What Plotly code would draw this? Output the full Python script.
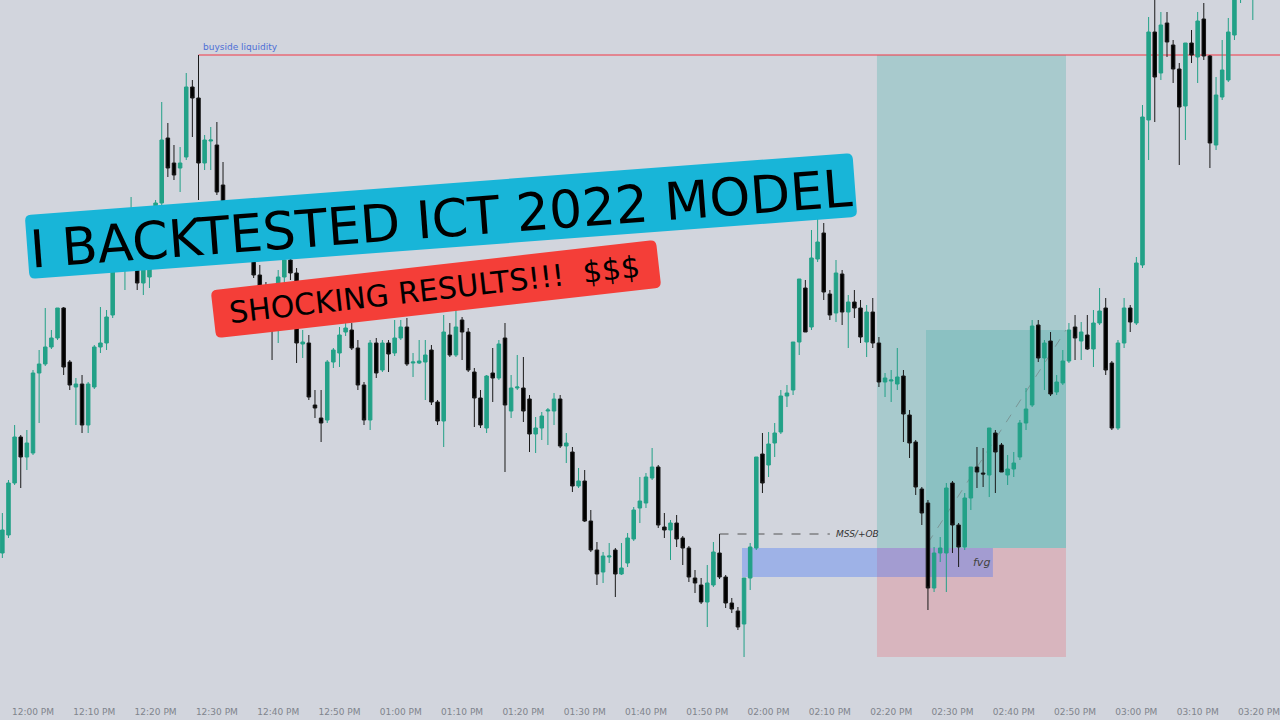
import math
import pandas as pd
import plotly.graph_objects as go

# ---------------- data (1-minute candles) ----------------
start_time = "2023-03-08 11:55"
opens = [12447,12465,12517,12563,12543,12547,12627,12636,12653,12662,
         12692,12638,12613,12616,12575,12613,12653,12657,12685,12745,
         12738,12768,12778,12717,12723,12760,12797,12862,12837,12832,
         12843,12913,12902,12837,12859,12855,12815,12775,12790,12765,
         12778,12782,12725,12713,12695,12680,12723,12740,12727,12656,
         12657,12595,12582,12580,12638,12647,12668,12670,12652,12615,
         12580,12657,12630,12657,12647,12662,12673,12637,12637,12638,
         12650,12598,12579,12665,12645,12680,12668,12628,12602,12572,
         12627,12622,12662,12589,12612,12612,12601,12566,12572,12589,
         12589,12601,12554,12548,12514,12519,12479,12450,12428,12443,
         12450,12426,12437,12461,12492,12497,12522,12533,12473,12470,
         12477,12462,12452,12422,12415,12398,12415,12447,12423,12397,
         12389,12376,12422,12452,12546,12535,12557,12568,12604,12610,
         12658,12712,12673,12741,12767,12706,12687,12726,12688,12698,
         12692,12658,12688,12657,12618,12619,12616,12624,12585,12558,
         12511,12497,12412,12447,12447,12517,12475,12453,12502,12533,
         12527,12525,12567,12555,12525,12531,12543,12577,12595,12675,
         12642,12659,12608,12617,12639,12673,12659,12665,12651,12677,
         12692,12637,12572,12657,12692,12677,12735,12880,12968,12927,
         12977,12955,12931,12894,12957,12943,12981,12944,12855,12903,
         12920,12965,13010,13020,13030,13035,13045,13040,13050]
highs = [12487,12520,12575,12565,12570,12630,12650,12692,12670,12692,
         12693,12640,12622,12625,12618,12655,12693,12690,12755,12760,
         12772,12803,12788,12738,12765,12800,12898,12877,12855,12853,
         12927,12920,12945,12865,12873,12878,12838,12795,12800,12785,
         12788,12788,12735,12718,12705,12730,12745,12750,12732,12670,
         12665,12610,12610,12640,12652,12673,12677,12677,12660,12618,
         12660,12662,12660,12660,12680,12680,12682,12647,12660,12660,
         12655,12600,12685,12677,12690,12683,12672,12632,12610,12625,
         12652,12660,12677,12625,12645,12643,12605,12583,12588,12592,
         12607,12605,12567,12553,12532,12530,12490,12458,12448,12457,
         12452,12457,12467,12493,12523,12527,12552,12535,12487,12480,
         12485,12464,12454,12430,12422,12435,12458,12466,12425,12402,
         12393,12422,12457,12543,12567,12568,12577,12610,12615,12658,
         12721,12720,12770,12783,12777,12710,12740,12730,12705,12710,
         12700,12695,12702,12663,12627,12630,12652,12630,12590,12560,
         12513,12500,12453,12463,12517,12519,12477,12507,12533,12553,
         12552,12572,12570,12557,12545,12548,12580,12612,12680,12680,
         12660,12668,12625,12650,12677,12685,12678,12685,12690,12712,
         12702,12639,12660,12702,12695,12743,12895,12983,13010,12988,
         12988,12960,12937,12957,12970,12988,12997,12945,12923,12960,
         12982,13020,13030,13040,13045,13050,13060,13055,13070]
lows = [12442,12462,12515,12512,12530,12545,12577,12634,12651,12660,
        12625,12610,12575,12567,12567,12611,12647,12650,12682,12735,
        12710,12760,12710,12705,12712,12755,12795,12823,12820,12808,
        12840,12863,12800,12830,12830,12805,12770,12768,12760,12755,
        12765,12722,12710,12680,12640,12657,12715,12720,12637,12642,
        12600,12582,12558,12577,12632,12633,12664,12650,12610,12575,
        12570,12622,12628,12628,12644,12660,12634,12623,12636,12600,
        12595,12575,12553,12643,12643,12640,12628,12573,12572,12567,
        12598,12620,12528,12582,12610,12578,12548,12547,12560,12555,
        12575,12552,12537,12508,12512,12478,12448,12415,12417,12437,
        12403,12425,12433,12459,12477,12492,12520,12472,12462,12440,
        12453,12435,12418,12407,12396,12373,12413,12421,12392,12387,
        12370,12343,12410,12450,12507,12523,12543,12566,12593,12605,
        12645,12668,12670,12738,12700,12680,12678,12675,12652,12682,
        12657,12643,12652,12613,12603,12598,12610,12558,12542,12505,
        12475,12390,12408,12438,12408,12447,12433,12450,12490,12512,
        12513,12503,12507,12528,12515,12523,12540,12570,12593,12638,
        12610,12604,12605,12615,12637,12640,12640,12650,12633,12675,
        12625,12570,12570,12652,12668,12675,12732,12840,12878,12920,
        12943,12917,12835,12860,12937,12917,12940,12832,12850,12900,
        12918,12960,12997,13005,12980,13020,13030,13025,13035]
closes = [12470,12517,12563,12543,12557,12627,12636,12653,12662,12692,
          12633,12615,12616,12575,12616,12653,12657,12683,12745,12738,
          12768,12785,12717,12735,12760,12797,12860,12832,12825,12837,
          12913,12902,12837,12860,12860,12808,12775,12790,12765,12778,
          12782,12725,12713,12695,12680,12723,12740,12727,12657,12658,
          12603,12592,12577,12638,12650,12665,12672,12652,12615,12580,
          12657,12627,12657,12646,12662,12673,12636,12638,12639,12645,
          12598,12579,12668,12645,12673,12668,12630,12602,12575,12624,
          12622,12656,12595,12612,12613,12589,12566,12572,12584,12590,
          12601,12554,12557,12514,12519,12479,12450,12426,12444,12444,
          12426,12432,12462,12490,12499,12523,12533,12475,12470,12477,
          12461,12452,12423,12417,12398,12417,12448,12423,12397,12391,
          12373,12422,12453,12543,12517,12556,12567,12604,12607,12658,
          12721,12668,12742,12758,12708,12685,12727,12688,12698,12692,
          12663,12688,12657,12618,12622,12620,12623,12586,12557,12513,
          12487,12412,12447,12452,12512,12475,12453,12502,12533,12528,
          12526,12572,12548,12528,12531,12537,12577,12591,12674,12642,
          12657,12606,12618,12639,12670,12662,12668,12651,12677,12689,
          12630,12572,12657,12692,12678,12737,12883,12968,12923,12975,
          12958,12931,12893,12957,12945,12979,12944,12857,12905,12930,
          12968,13010,13020,13030,13035,13045,13040,13050,13060]

# levels / drawing anchors
view_start, view_end = "2023-03-08 11:54:37", "2023-03-08 15:23:26"
price_min, price_max = 12280, 13000
buyside_level, buyside_time = 12945, "2023-03-08 12:27"
target_price, entry_price, stop_price, mid_price = 12945, 12452, 12343, 12670
pos_t0, pos_t_inner, pos_t1 = "2023-03-08 14:17:41", "2023-03-08 14:25:41", "2023-03-08 14:48:31"
ob_t0, ob_t1, ob_top, ob_bot = "2023-03-08 13:55:40", "2023-03-08 14:36:36", 12452, 12423
mss_level, mss_t0, mss_t1 = 12466, "2023-03-08 13:52", "2023-03-08 14:10"
trend_t0, trend_p0, trend_t1, trend_p1 = "2023-03-08 14:25:59", 12457, "2023-03-08 14:48:31", 12670
fvg_time, fvg_price = "2023-03-08 14:34:48", 12438

title_text = "I BACKTESTED ICT 2022 MODEL"
sub_text = "SHOCKING RESULTS!!!  $$$"

times = pd.date_range(start_time, periods=len(opens), freq="1min")

BG = "#d2d5dd"
W, H = 1280, 720

fig = go.Figure()
fig.add_trace(go.Candlestick(
    x=times, open=opens, high=highs, low=lows, close=closes,
    increasing=dict(line=dict(color="#22a187", width=1), fillcolor="#22a187"),
    decreasing=dict(line=dict(color="#1a1a1a", width=1), fillcolor="#000000"),
    whiskerwidth=0, hoverinfo="skip", showlegend=False,
))

shapes = [
    dict(type="rect", layer="below", xref="x", yref="y", x0=pos_t0, x1=pos_t1, y0=entry_price, y1=target_price,
         fillcolor="rgba(38,166,154,0.24)", line=dict(width=0)),
    dict(type="rect", layer="below", xref="x", yref="y", x0=pos_t_inner, x1=pos_t1, y0=entry_price, y1=mid_price,
         fillcolor="rgba(38,166,154,0.22)", line=dict(width=0)),
    dict(type="rect", layer="below", xref="x", yref="y", x0=pos_t0, x1=pos_t1, y0=stop_price, y1=entry_price,
         fillcolor="rgba(242,54,69,0.2)", line=dict(width=0)),
    dict(type="rect", layer="below", xref="x", yref="y", x0=ob_t0, x1=ob_t1, y0=ob_bot, y1=ob_top,
         fillcolor="rgba(41,98,255,0.3)", line=dict(width=0)),
    dict(type="line", layer="below", xref="x", yref="y", x0=buyside_time, x1=view_end, y0=buyside_level, y1=buyside_level,
         line=dict(color="#f23645", width=1)),
    dict(type="line", layer="below", xref="x", yref="y", x0=mss_t0, x1=mss_t1, y0=mss_level, y1=mss_level,
         line=dict(color="#555555", width=1, dash="dash")),
    dict(type="line", layer="below", xref="x", yref="y", x0=trend_t0, x1=trend_t1, y0=trend_p0, y1=trend_p1,
         line=dict(color="rgba(110,120,120,0.6)", width=1, dash="dash")),
]


def banner_path(cx, cy, w, h, ang, r):
    a = math.radians(ang)
    ux, uy = math.cos(a), -math.sin(a)
    vx, vy = math.sin(a), math.cos(a)

    def P(lx, ly):
        px = cx + lx * ux + ly * vx
        py = cy + lx * uy + ly * vy
        return f"{px / W:.5f},{1 - py / H:.5f}"

    hw, hh = w / 2, h / 2
    return (f"M {P(-hw + r, -hh)} L {P(hw - r, -hh)} Q {P(hw, -hh)} {P(hw, -hh + r)} "
            f"L {P(hw, hh - r)} Q {P(hw, hh)} {P(hw - r, hh)} L {P(-hw + r, hh)} "
            f"Q {P(-hw, hh)} {P(-hw, hh - r)} L {P(-hw, -hh + r)} Q {P(-hw, -hh)} {P(-hw + r, -hh)} Z")


shapes.append(dict(type="path", xref="paper", yref="paper", path=banner_path(441, 216, 830, 64, 4.3, 6),
                   fillcolor="#18b5d8", line=dict(width=0)))
shapes.append(dict(type="path", xref="paper", yref="paper", path=banner_path(436, 289, 448, 48, 6.5, 6),
                   fillcolor="#f43e38", line=dict(width=0)))

annotations = [
    dict(x=buyside_time, y=buyside_level, xref="x", yref="y", text="buyside liquidity", showarrow=False,
         xanchor="left", yanchor="bottom", xshift=2, yshift=1,
         font=dict(family="DejaVu Sans", size=9, color="#4f6fd6")),
    dict(x=mss_t1, y=mss_level, xref="x", yref="y", text="<i>MSS/+OB</i>", showarrow=False,
         xanchor="left", yanchor="middle", xshift=4,
         font=dict(family="DejaVu Sans", size=9, color="#333333")),
    dict(x=fvg_time, y=fvg_price, xref="x", yref="y", text="<i>fvg</i>", showarrow=False,
         xanchor="center", yanchor="middle",
         font=dict(family="DejaVu Sans", size=11, color="#444444")),
    dict(x=441 / W, y=1 - 219 / H, xref="paper", yref="paper", text=title_text, showarrow=False,
         xanchor="center", yanchor="middle",
         textangle=-4.3, font=dict(family="DejaVu Sans", size=52, color="#000000")),
    dict(x=434 / W, y=1 - 289 / H, xref="paper", yref="paper", text=sub_text, showarrow=False,
         xanchor="center", yanchor="middle",
         textangle=-6.5, font=dict(family="DejaVu Sans", size=30, color="#000000")),
]

fig.update_layout(
    width=W, height=H, margin=dict(l=0, r=0, t=0, b=0),
    paper_bgcolor=BG, plot_bgcolor=BG, boxgap=0.18,
    shapes=shapes, annotations=annotations, hovermode=False, showlegend=False,
    xaxis=dict(range=[view_start, view_end], rangeslider=dict(visible=False), showgrid=False,
               zeroline=False, showline=False, tickformat="%I:%M %p", dtick=600000,
               tick0="2023-03-08 12:00", ticklabelposition="inside", ticks="",
               tickfont=dict(family="DejaVu Sans", size=9, color="#80848c")),
    yaxis=dict(range=[price_min, price_max], showgrid=False, zeroline=False, showticklabels=False,
               showline=False, fixedrange=True),
)

fig.write_html("out.html")
